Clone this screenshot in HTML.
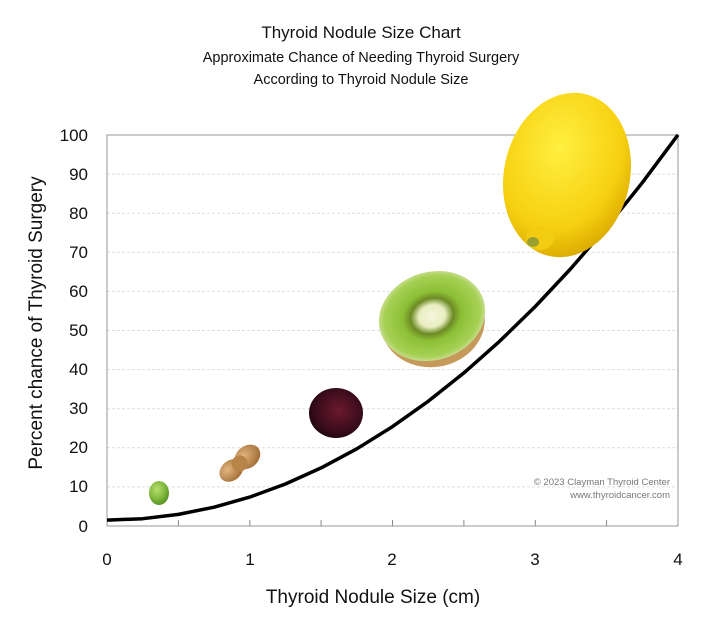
<!DOCTYPE html>
<html><head><meta charset="utf-8"><style>
html,body{margin:0;padding:0;background:#fff;width:722px;height:625px;overflow:hidden}
svg{display:block;font-family:"Liberation Sans",sans-serif}
</style></head><body>
<svg width="722" height="625" viewBox="0 0 722 625">
<defs>
<radialGradient id="pea" cx="0.4" cy="0.35" r="0.7"><stop offset="0" stop-color="#b8e070"/><stop offset="0.6" stop-color="#7db63a"/><stop offset="1" stop-color="#4f8a20"/></radialGradient>
<radialGradient id="nut" cx="0.4" cy="0.35" r="0.7"><stop offset="0" stop-color="#e2b77f"/><stop offset="1" stop-color="#a06a34"/></radialGradient>
<radialGradient id="plum" cx="0.55" cy="0.45" r="0.6"><stop offset="0" stop-color="#6a1a2c"/><stop offset="0.7" stop-color="#3a0c1c"/><stop offset="1" stop-color="#1d0610"/></radialGradient>
<radialGradient id="kiwi" cx="0.5" cy="0.5" r="0.5"><stop offset="0" stop-color="#f6f6dc"/><stop offset="0.25" stop-color="#e8eec0"/><stop offset="0.4" stop-color="#6d8a25"/><stop offset="0.55" stop-color="#8cbf35"/><stop offset="0.9" stop-color="#a6d155"/><stop offset="1" stop-color="#c7dc8c"/></radialGradient>
<radialGradient id="lemon" cx="0.4" cy="0.35" r="0.7"><stop offset="0" stop-color="#ffef40"/><stop offset="0.7" stop-color="#f6d010"/><stop offset="1" stop-color="#d8a800"/></radialGradient>
</defs>
<text x="361" y="38" font-size="17" text-anchor="middle" fill="#111">Thyroid Nodule Size Chart</text>
<text x="361" y="62" font-size="14.5" text-anchor="middle" fill="#111">Approximate Chance of Needing Thyroid Surgery</text>
<text x="361" y="84" font-size="14.5" text-anchor="middle" fill="#111">According to Thyroid Nodule Size</text>
<g stroke="#ddd" stroke-width="1" stroke-dasharray="3,2">
<line x1="107" x2="678" y1="174.1" y2="174.1"/><line x1="107" x2="678" y1="213.2" y2="213.2"/><line x1="107" x2="678" y1="252.3" y2="252.3"/><line x1="107" x2="678" y1="291.4" y2="291.4"/><line x1="107" x2="678" y1="330.5" y2="330.5"/><line x1="107" x2="678" y1="369.6" y2="369.6"/><line x1="107" x2="678" y1="408.7" y2="408.7"/><line x1="107" x2="678" y1="447.8" y2="447.8"/><line x1="107" x2="678" y1="486.9" y2="486.9"/>
</g>
<rect x="107" y="135" width="571" height="391" fill="none" stroke="#999" stroke-width="1"/>
<g stroke="#888" stroke-width="1">
<line x1="178.4" x2="178.4" y1="520" y2="526"/><line x1="249.8" x2="249.8" y1="520" y2="526"/><line x1="321.1" x2="321.1" y1="520" y2="526"/><line x1="392.5" x2="392.5" y1="520" y2="526"/><line x1="463.9" x2="463.9" y1="520" y2="526"/><line x1="535.3" x2="535.3" y1="520" y2="526"/><line x1="606.6" x2="606.6" y1="520" y2="526"/>
</g>
<g font-size="17" fill="#111" text-anchor="end">
<text x="88" y="141">100</text><text x="88" y="180">90</text><text x="88" y="219">80</text><text x="88" y="258">70</text><text x="88" y="297">60</text><text x="88" y="336">50</text><text x="88" y="375">40</text><text x="88" y="414">30</text><text x="88" y="453">20</text><text x="88" y="492">10</text><text x="88" y="532">0</text>
</g>
<g font-size="17" fill="#111" text-anchor="middle">
<text x="107" y="565">0</text><text x="250" y="565">1</text><text x="392" y="565">2</text><text x="535" y="565">3</text><text x="678" y="565">4</text>
</g>
<text x="373" y="603" font-size="19" text-anchor="middle" fill="#111">Thyroid Nodule Size (cm)</text>
<text transform="translate(42,323) rotate(-90)" font-size="19" text-anchor="middle" fill="#111">Percent chance of Thyroid Surgery</text>
<polyline fill="none" stroke="#000" stroke-width="3.5" stroke-linejoin="round" points="107,520.1 142.7,518.7 178.4,514.4 214.1,507.2 249.8,497.1 285.4,484 321.1,467.9 356.8,448.8 392.5,426.6 428.2,401.3 463.9,372.9 499.6,341.3 535.3,306.5 570.9,268.5 606.6,227.2 642.3,182.7 678,134.8"/>
<ellipse cx="159" cy="493" rx="10" ry="12" fill="url(#pea)"/>
<g transform="translate(239,464) rotate(-40)">
<ellipse cx="-10" cy="0" rx="13" ry="10" fill="url(#nut)"/><ellipse cx="11" cy="0" rx="14" ry="11" fill="url(#nut)"/><ellipse cx="1" cy="0" rx="8" ry="8" fill="#b88448"/>
</g>
<ellipse cx="336" cy="413" rx="27" ry="25" fill="url(#plum)"/>
<ellipse cx="433" cy="322" rx="52" ry="45" fill="#c69a5a" transform="rotate(-10 433 322)"/>
<ellipse cx="432" cy="316" rx="54" ry="44" fill="url(#kiwi)" transform="rotate(-18 432 316)"/>
<ellipse cx="567" cy="175" rx="63" ry="83" fill="url(#lemon)" transform="rotate(12 567 175)"/>
<ellipse cx="540" cy="238" rx="14" ry="12" fill="#f2cc10"/>
<ellipse cx="533" cy="242" rx="6" ry="5" fill="#9aa030"/>
<text x="670" y="485" font-size="9.5" text-anchor="end" fill="#777">© 2023 Clayman Thyroid Center</text>
<text x="670" y="498" font-size="9.5" text-anchor="end" fill="#777">www.thyroidcancer.com</text>
</svg>
</body></html>
